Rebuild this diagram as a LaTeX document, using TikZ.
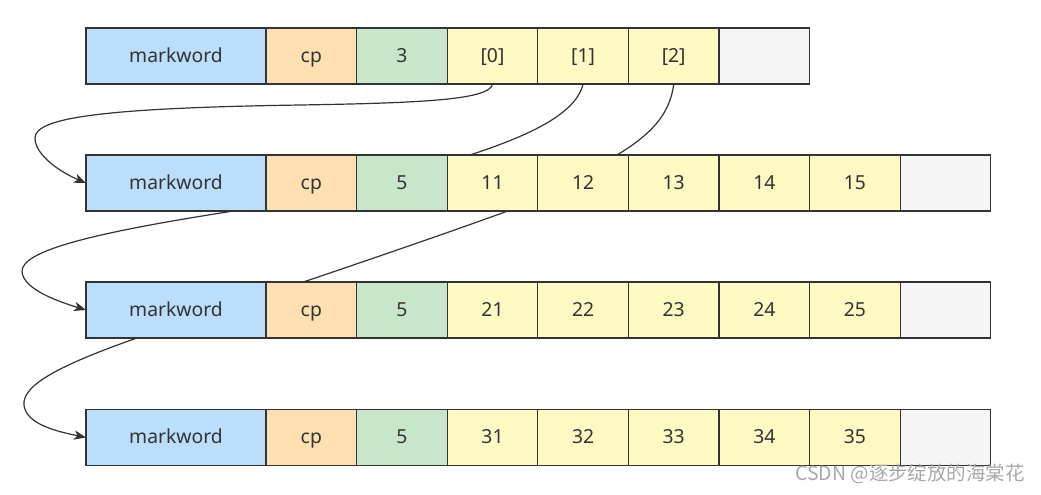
\documentclass[tikz,border=0pt]{standalone}
\usepackage{fontspec}
\setmainfont{Noto Sans}
\newfontfamily\cjkfont{Noto Sans CJK SC}
\usetikzlibrary{arrows.meta,backgrounds}
\definecolor{cblue}{HTML}{BBDEFB}
\definecolor{corange}{HTML}{FFE0B2}
\definecolor{cgreen}{HTML}{C8E6C9}
\definecolor{cyellow}{HTML}{FFF9C4}
\definecolor{cgray}{HTML}{F5F5F5}
\definecolor{cborder}{HTML}{333333}
\definecolor{ctext}{HTML}{333333}
\definecolor{clink}{HTML}{333333}
\definecolor{cwm}{HTML}{A8A8A8}
\begin{document}
\begin{tikzpicture}[x=0.75pt,y=-0.75pt,
  cell/.style={draw=cborder, line width=1pt, minimum height=42pt, minimum width=67.95pt,
    inner sep=0pt, outer sep=0pt, text=ctext, font=\fontsize{14.5}{17}\selectfont,
    text height=12.5pt, text depth=3pt, anchor=west},
  wide/.style={cell, minimum width=135pt},
  link/.style={draw=clink, line width=0.9pt},
  arr/.style={link, -{Stealth[length=9pt,width=7pt,inset=2.5pt]}}]
\useasboundingbox (0,0) rectangle (1041,494);
% row 1
\node[wide, fill=cblue]   (a1) at (86,56)    {markword};
\node[cell, fill=corange] (a2) at (266,56)   {cp};
\node[cell, fill=cgreen]  (a3) at (356.6,56) {3};
\node[cell, fill=cyellow] (a4) at (447.2,56) {[0]};
\node[cell, fill=cyellow] (a5) at (537.8,56) {[1]};
\node[cell, fill=cyellow] (a6) at (628.4,56) {[2]};
\node[cell, fill=cgray]   (a7) at (719,56)   {};
% row 2
\node[wide, fill=cblue]   (b1) at (86,183)    {markword};
\node[cell, fill=corange] (b2) at (266,183)   {cp};
\node[cell, fill=cgreen]  (b3) at (356.6,183) {5};
\node[cell, fill=cyellow] (b4) at (447.2,183) {11};
\node[cell, fill=cyellow] (b5) at (537.8,183) {12};
\node[cell, fill=cyellow] (b6) at (628.4,183) {13};
\node[cell, fill=cyellow] (b7) at (719,183)   {14};
\node[cell, fill=cyellow] (b8) at (809.6,183) {15};
\node[cell, fill=cgray]   (b9) at (900.2,183) {};
% row 3
\node[wide, fill=cblue]   (c1) at (86,310)    {markword};
\node[cell, fill=corange] (c2) at (266,310)   {cp};
\node[cell, fill=cgreen]  (c3) at (356.6,310) {5};
\node[cell, fill=cyellow] (c4) at (447.2,310) {21};
\node[cell, fill=cyellow] (c5) at (537.8,310) {22};
\node[cell, fill=cyellow] (c6) at (628.4,310) {23};
\node[cell, fill=cyellow] (c7) at (719,310)   {24};
\node[cell, fill=cyellow] (c8) at (809.6,310) {25};
\node[cell, fill=cgray]   (c9) at (900.2,310) {};
% row 4
\node[wide, fill=cblue]   (d1) at (86,437.5)    {markword};
\node[cell, fill=corange] (d2) at (266,437.5)   {cp};
\node[cell, fill=cgreen]  (d3) at (356.6,437.5) {5};
\node[cell, fill=cyellow] (d4) at (447.2,437.5) {31};
\node[cell, fill=cyellow] (d5) at (537.8,437.5) {32};
\node[cell, fill=cyellow] (d6) at (628.4,437.5) {33};
\node[cell, fill=cyellow] (d7) at (719,437.5)   {34};
\node[cell, fill=cyellow] (d8) at (809.6,437.5) {35};
\node[cell, fill=cgray]   (d9) at (900.2,437.5) {};
% watermark
\node[font=\cjkfont\fontsize{14.6}{17}\selectfont, text=cwm, anchor=east, inner sep=0pt] (wm) at (1025,474) {CSDN @逐步绽放的海棠花};
% connectors
\begin{scope}[on background layer]
\draw[arr] (a4.south) .. controls (490,100) and (420,103) .. (300,105)
  .. controls (100,108) and (35,118) .. (35,138)
  .. controls (35,155) and (60,172) .. (b1.west);
\draw[arr] (a5.south) .. controls (575,118) and (515,140) .. (470,155)
  .. controls (380,185) and (300,200) .. (227,212)
  .. controls (100,232) and (20,250) .. (22,272)
  .. controls (24,290) and (60,302) .. (c1.west);
\draw[arr] (a6.south) .. controls (670,115) and (650,135) .. (617,155)
  .. controls (590,175) and (560,192) .. (505,212)
  .. controls (400,250) and (250,300) .. (137,338)
  .. controls (60,365) and (22,385) .. (24,405)
  .. controls (26,425) and (60,432) .. (d1.west);
\end{scope}
\end{tikzpicture}
\end{document}
